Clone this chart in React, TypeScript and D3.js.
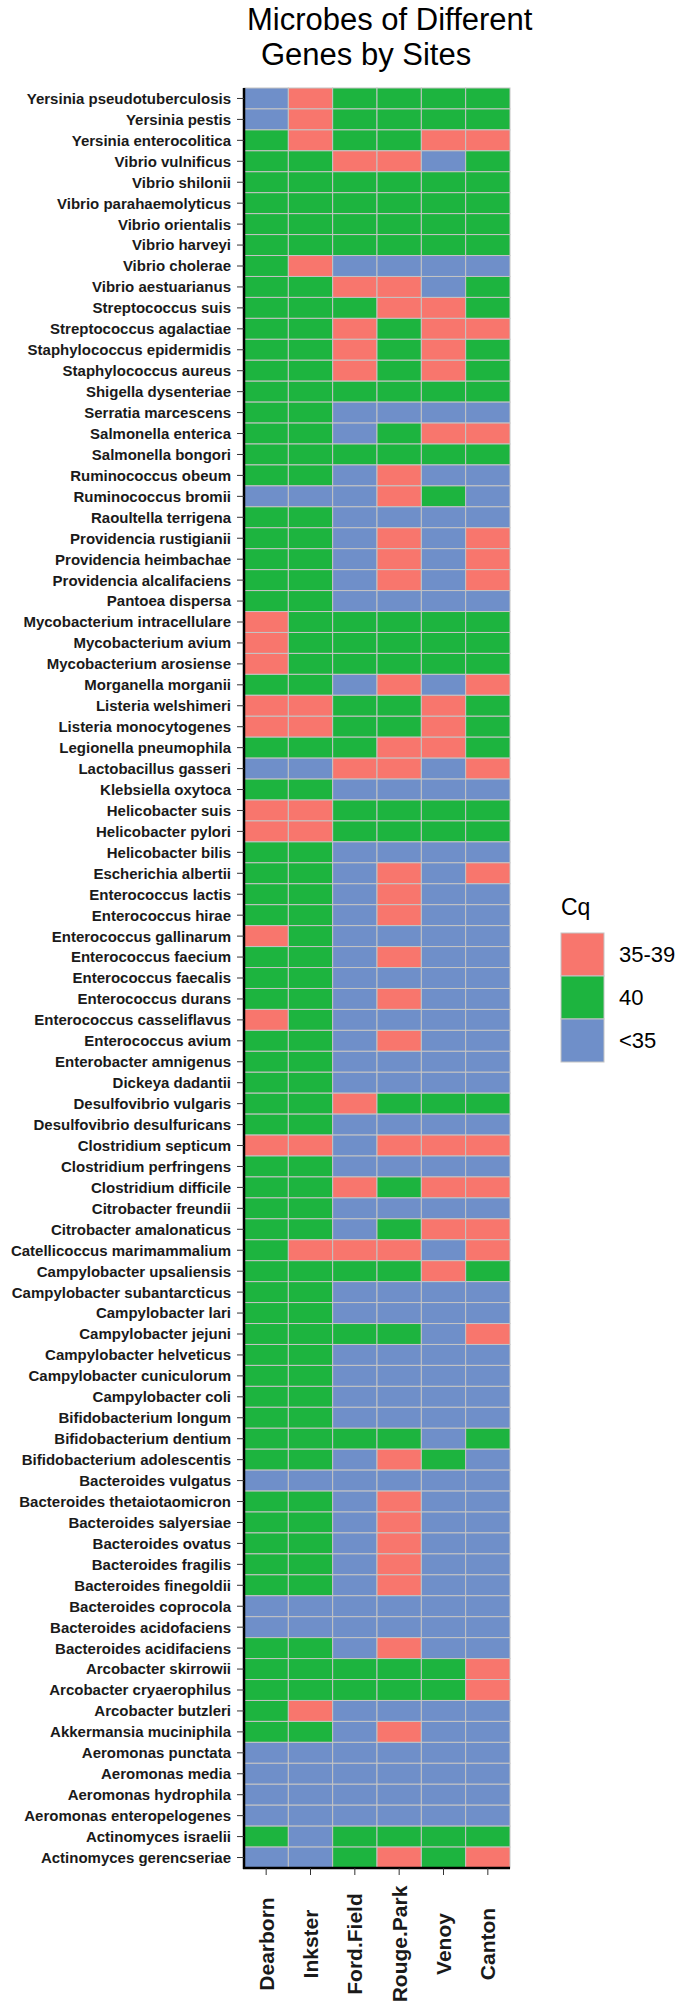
import * as d3 from 'd3';

// Microbes listed top to bottom
const microbes = [
  "Yersinia pseudotuberculosis", "Yersinia pestis", "Yersinia enterocolitica",
  "Vibrio vulnificus", "Vibrio shilonii", "Vibrio parahaemolyticus", "Vibrio orientalis",
  "Vibrio harveyi", "Vibrio cholerae", "Vibrio aestuarianus", "Streptococcus suis",
  "Streptococcus agalactiae", "Staphylococcus epidermidis", "Staphylococcus aureus",
  "Shigella dysenteriae", "Serratia marcescens", "Salmonella enterica", "Salmonella bongori",
  "Ruminococcus obeum", "Ruminococcus bromii", "Raoultella terrigena",
  "Providencia rustigianii", "Providencia heimbachae", "Providencia alcalifaciens",
  "Pantoea dispersa", "Mycobacterium intracellulare", "Mycobacterium avium",
  "Mycobacterium arosiense", "Morganella morganii", "Listeria welshimeri",
  "Listeria monocytogenes", "Legionella pneumophila", "Lactobacillus gasseri",
  "Klebsiella oxytoca", "Helicobacter suis", "Helicobacter pylori", "Helicobacter bilis",
  "Escherichia albertii", "Enterococcus lactis", "Enterococcus hirae",
  "Enterococcus gallinarum", "Enterococcus faecium", "Enterococcus faecalis",
  "Enterococcus durans", "Enterococcus casseliflavus", "Enterococcus avium",
  "Enterobacter amnigenus", "Dickeya dadantii", "Desulfovibrio vulgaris",
  "Desulfovibrio desulfuricans", "Clostridium septicum", "Clostridium perfringens",
  "Clostridium difficile", "Citrobacter freundii", "Citrobacter amalonaticus",
  "Catellicoccus marimammalium", "Campylobacter upsaliensis", "Campylobacter subantarcticus",
  "Campylobacter lari", "Campylobacter jejuni", "Campylobacter helveticus",
  "Campylobacter cuniculorum", "Campylobacter coli", "Bifidobacterium longum",
  "Bifidobacterium dentium", "Bifidobacterium adolescentis", "Bacteroides vulgatus",
  "Bacteroides thetaiotaomicron", "Bacteroides salyersiae", "Bacteroides ovatus",
  "Bacteroides fragilis", "Bacteroides finegoldii", "Bacteroides coprocola",
  "Bacteroides acidofaciens", "Bacteroides acidifaciens", "Arcobacter skirrowii",
  "Arcobacter cryaerophilus", "Arcobacter butzleri", "Akkermansia muciniphila",
  "Aeromonas punctata", "Aeromonas media", "Aeromonas hydrophila",
  "Aeromonas enteropelogenes", "Actinomyces israelii", "Actinomyces gerencseriae",
];

const sites = ["Dearborn", "Inkster", "Ford.Field", "Rouge.Park", "Venoy", "Canton"];

const cqLevels = ["35-39", "40", "<35"];
const cqColors = ["#F8766D", "#1DB43F", "#6F8FC9"];

// one string per microbe, one letter per site: R = 35-39, G = 40, B = <35
const cqCalls = [
  "BRGGGG", "BRGGGG", "GRGGRR", "GGRRBG", "GGGGGG", "GGGGGG", "GGGGGG", "GGGGGG",
  "GRBBBB", "GGRRBG", "GGGRRG", "GGRGRR", "GGRGRG", "GGRGRG", "GGGGGG", "GGBBBB",
  "GGBGRR", "GGGGGG", "GGBRBB", "BBBRGB", "GGBBBB", "GGBRBR", "GGBRBR", "GGBRBR",
  "GGBBBB", "RGGGGG", "RGGGGG", "RGGGGG", "GGBRBR", "RRGGRG", "RRGGRG", "GGGRRG",
  "BBRRBR", "GGBBBB", "RRGGGG", "RRGGGG", "GGBBBB", "GGBRBR", "GGBRBB", "GGBRBB",
  "RGBBBB", "GGBRBB", "GGBBBB", "GGBRBB", "RGBBBB", "GGBRBB", "GGBBBB", "GGBBBB",
  "GGRGGG", "GGBBBB", "RRBRRR", "GGBBBB", "GGRGRR", "GGBBBB", "GGBGRR", "GRRRBR",
  "GGGGRG", "GGBBBB", "GGBBBB", "GGGGBR", "GGBBBB", "GGBBBB", "GGBBBB", "GGBBBB",
  "GGGGBG", "GGBRGB", "BBBBBB", "GGBRBB", "GGBRBB", "GGBRBB", "GGBRBB", "GGBRBB",
  "BBBBBB", "BBBBBB", "GGBRBB", "GGGGGR", "GGGGGR", "GRBBBB", "GGBRBB", "BBBBBB",
  "BBBBBB", "BBBBBB", "BBBBBB", "GBGGGG", "BBGRGR",
];

const codeLevel: Record<string, string> = { R: "35-39", G: "40", B: "<35" };

const W = 685;
const H = 2013;
const panel = { left: 244, right: 510, top: 88, bottom: 1868 };
const font = "'Liberation Sans', Arial, Helvetica, sans-serif";

export default function App() {
  const x = d3.scaleBand().domain(sites).range([panel.left, panel.right]);
  const y = d3.scaleBand().domain(microbes).range([panel.top, panel.bottom]);
  const color = d3.scaleOrdinal<string, string>().domain(cqLevels).range(cqColors);

  const cells = microbes.flatMap((m, i) =>
    sites.map((s, j) => ({ microbe: m, site: s, level: codeLevel[cqCalls[i][j]] }))
  );

  const legendX = 561;
  const legendY = 933;
  const key = 43;

  return (
    <div style={{ position: 'absolute', left: 0, top: 0 }}>
      <svg width={W} height={H} style={{ display: 'block', background: '#fff' }} fontFamily={font}>
        <text x={247} y={30} fontSize={31} fill="#000">Microbes of Different</text>
        <text x={261} y={65} fontSize={31} fill="#000">Genes by Sites</text>

        {cells.map(c => (
          <rect
            key={c.microbe + c.site}
            x={x(c.site)}
            y={y(c.microbe)}
            width={x.bandwidth()}
            height={y.bandwidth()}
            fill={color(c.level)}
            stroke="#c4c4c4"
            strokeWidth={1}
          />
        ))}

        {/* y axis */}
        <line x1={panel.left} x2={panel.left} y1={panel.top} y2={panel.bottom + 1} stroke="#000" strokeWidth={2.5} />
        {microbes.map(m => {
          const cy = (y(m) ?? 0) + y.bandwidth() / 2;
          return (
            <g key={m}>
              <line x1={panel.left - 7} x2={panel.left} y1={cy} y2={cy} stroke="#333" strokeWidth={1} />
              <text x={panel.left - 13} y={cy} dy="0.36em" textAnchor="end" fontSize={15} fontWeight="bold" fill="#1a1a1a">
                {m}
              </text>
            </g>
          );
        })}

        {/* x axis */}
        <line x1={panel.left - 1} x2={panel.right} y1={panel.bottom} y2={panel.bottom} stroke="#000" strokeWidth={2.5} />
        {sites.map(s => {
          const cx = (x(s) ?? 0) + x.bandwidth() / 2;
          return (
            <g key={s}>
              <line x1={cx} x2={cx} y1={panel.bottom} y2={panel.bottom + 7} stroke="#333" strokeWidth={1} />
              <text
                transform={`translate(${cx},1944) rotate(-90)`}
                dy="0.36em"
                textAnchor="middle"
                fontSize={21}
                fontWeight="bold"
                fill="#1a1a1a"
              >
                {s}
              </text>
            </g>
          );
        })}

        {/* legend */}
        <text x={legendX} y={legendY - 18} fontSize={23} fill="#000">Cq</text>
        {cqLevels.map((lv, i) => (
          <g key={lv}>
            <rect x={legendX} y={legendY + i * key} width={key} height={key} fill={color(lv)} stroke="#c4c4c4" strokeWidth={1} />
            <text x={legendX + key + 15} y={legendY + i * key + key / 2} dy="0.36em" fontSize={22} fill="#000">
              {lv}
            </text>
          </g>
        ))}
      </svg>
    </div>
  );
}
